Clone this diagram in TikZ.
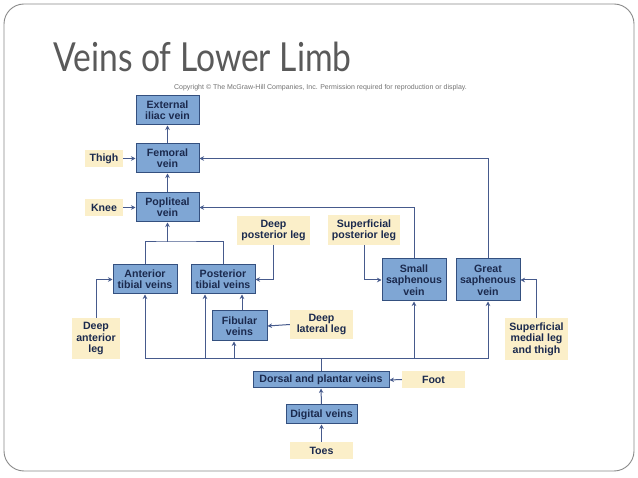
\documentclass[tikz,border=0pt]{standalone}
\usepackage{fontspec}
\setmainfont{Liberation Sans}
\newfontfamily\titlefont[FakeStretch=0.84]{Lato}
\usetikzlibrary{arrows.meta,calc}
\definecolor{boxfill}{HTML}{7FA6D4}
\definecolor{boxline}{HTML}{34507F}
\definecolor{boxtext}{HTML}{1B2A4E}
\definecolor{lblfill}{HTML}{FBEFC9}
\definecolor{conn}{HTML}{465A8C}
\definecolor{frame}{HTML}{8A8A8A}
\definecolor{titlegray}{HTML}{5A5A5A}
\tikzset{
  vein/.style={draw=boxline, fill=boxfill, line width=1pt, inner sep=0pt, align=center,
    text=boxtext, font=\fontsize{10.6}{11.4}\selectfont\bfseries},
  lbl/.style={fill=lblfill, inner sep=0pt, align=center,
    text=boxtext, font=\fontsize{10.6}{11.4}\selectfont\bfseries},
  arr/.style={draw=conn, line width=1pt, -{Stealth[length=4.5pt,width=4.5pt]}},
  ln/.style={draw=conn, line width=1pt},
}
\begin{document}
\begin{tikzpicture}[x=1pt,y=-1pt]
\useasboundingbox (0,0) rectangle (638,478);
\fill[white] (0,0) rectangle (638,478);
\draw[frame, line width=0.9pt, rounded corners=20pt] (4,4) rectangle (634,471);
\node[anchor=base west, text=titlegray, font=\titlefont\fontsize{40}{40}\selectfont, inner sep=0pt] (title) at (53,72) {Veins of Lower Limb};
\node[text=titlegray!85, font=\fontsize{7}{7}\selectfont, inner sep=0pt] (copy) at (320.5,88) {Copyright \textcopyright{} The McGraw-Hill Companies, Inc. Permission required for reproduction or display.};
% veins
\node[vein, minimum width=63pt, minimum height=29pt] (ext) at (167.5,110.5) {External\\iliac vein};
\node[vein, minimum width=63pt, minimum height=29pt] (fem) at (167.5,158.5) {Femoral\\vein};
\node[vein, minimum width=63pt, minimum height=29pt] (pop) at (167.5,207.5) {Popliteal\\vein};
\node[vein, minimum width=64pt, minimum height=29pt] (atv) at (145,279.5) {Anterior\\tibial veins};
\node[vein, minimum width=64pt, minimum height=29pt] (ptv) at (223,279.5) {Posterior\\tibial veins};
\node[vein, minimum width=55pt, minimum height=30pt] (fib) at (239.5,326) {Fibular\\veins};
\node[vein, minimum width=64pt, minimum height=42pt] (ssv) at (414,280) {Small\\saphenous\\vein};
\node[vein, minimum width=64pt, minimum height=42pt] (gsv) at (488,280) {Great\\saphenous\\vein};
\node[vein, minimum width=136pt, minimum height=16pt] (dpv) at (321,380) {Dorsal and plantar veins};
\node[vein, minimum width=71pt, minimum height=19pt] (dig) at (321.5,414.5) {Digital veins};
% labels
\node[lbl, minimum width=38pt, minimum height=17pt] (thigh) at (104,158.5) {Thigh};
\node[lbl, minimum width=38pt, minimum height=17pt] (knee) at (104,207.5) {Knee};
\node[lbl, minimum width=73pt, minimum height=29pt] (dpl) at (273.5,230.5) {Deep\\posterior leg};
\node[lbl, minimum width=72pt, minimum height=30pt] (spl) at (364,230) {Superficial\\posterior leg};
\node[lbl, minimum width=63pt, minimum height=42pt] (sml) at (536.5,339) {Superficial\\medial leg\\and thigh};
\node[lbl, minimum width=63pt, minimum height=29pt] (dll) at (321.5,324.5) {Deep\\lateral leg};
\node[lbl, minimum width=48pt, minimum height=41pt] (dal) at (96,338.5) {Deep\\anterior\\leg};
\node[lbl, minimum width=63pt, minimum height=17pt] (foot) at (433.5,379.5) {Foot};
\node[lbl, minimum width=63pt, minimum height=17pt] (toes) at (321.5,450.5) {Toes};
% connectors
\draw[arr] (fem.north) -- (ext.south);
\draw[arr] (pop.north) -- (fem.south);
\draw[arr] (thigh.east) -- (fem.west);
\draw[arr] (knee.east) -- (pop.west);
\draw[arr] (gsv.north) |- (fem.east);
\draw[arr] (ssv.north) |- (pop.east);
\coordinate (j) at (167.5,242);
\draw[ln] (atv.north) |- (j) -| (ptv.north);
\draw[arr] (j) -- (pop.south);
\draw[arr] (dpl.south) |- (ptv.east);
\draw[arr] (spl.south) |- (ssv.west);
\draw[arr] (sml.north) |- (gsv.east);
\draw[arr] (dal.north) |- (atv.west);
\draw[arr] (dll.west) -- (fib.east);
\draw[arr] ([xshift=2.5pt]fib.north) -- ([xshift=2.5pt]fib.north |- ptv.south);
\coordinate (busL) at (145,359);
\coordinate (busR) at (488,359);
\draw[ln] (busL) -- (busR);
\draw[ln] (dpv.north) -- (dpv.north |- busL);
\draw[arr] (busL) -- (atv.south);
\draw[arr] ([xshift=-18pt]ptv.south |- busL) -- ([xshift=-18pt]ptv.south);
\draw[arr] ([xshift=-5.5pt]fib.south |- busL) -- ([xshift=-5.5pt]fib.south);
\draw[arr] (ssv.south |- busL) -- (ssv.south);
\draw[arr] (busR) -- (gsv.south);
\draw[arr] (dig.north) -- (dpv.south);
\draw[arr] (toes.north) -- (dig.south);
\draw[arr] (foot.west) -- (dpv.east);
\end{tikzpicture}
\end{document}
